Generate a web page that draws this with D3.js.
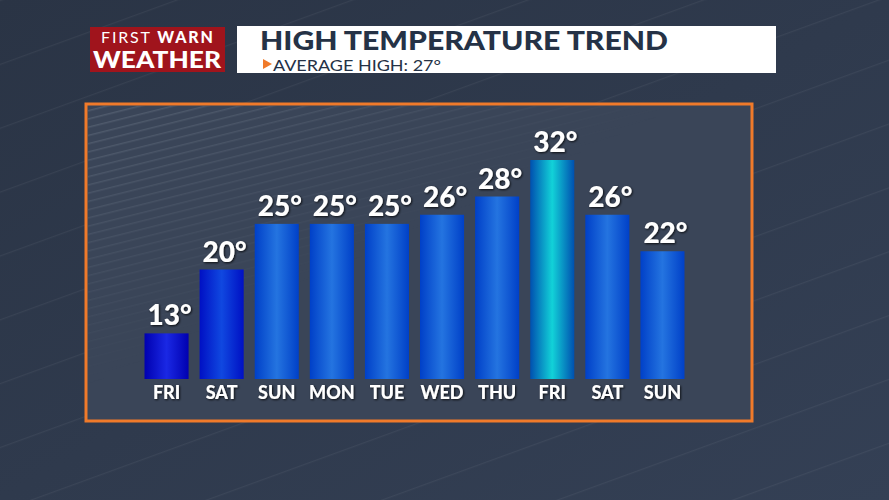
<!DOCTYPE html><html><head><meta charset="utf-8">
<script src="https://cdn.jsdelivr.net/npm/d3@7"></script>
<style>body{margin:0;background:#2c3749}svg{display:block}</style></head><body>
<svg id="c" width="889" height="500"></svg>
<script>
const days=["FRI","SAT","SUN","MON","TUE","WED","THU","FRI","SAT","SUN"];
const temps=[13,20,25,25,25,26,28,32,26,22];
const title="HIGH TEMPERATURE TREND";
const subtitle="AVERAGE HIGH: 27°";
const svg=d3.select("#c");
const defs=svg.append("defs");
const bg=defs.append("linearGradient").attr("id","bg").attr("x1",0).attr("y1",0).attr("x2",1).attr("y2",1);
bg.append("stop").attr("offset",0).attr("stop-color","#2a3445");
bg.append("stop").attr("offset",1).attr("stop-color","#344055");
svg.append("rect").attr("width",889).attr("height",500).attr("fill","url(#bg)");
const pat=defs.append("pattern").attr("id","st").attr("patternUnits","userSpaceOnUse").attr("width",60).attr("height",60).attr("patternTransform","rotate(-20)");
pat.append("rect").attr("width",60).attr("height",1.2).attr("fill","#ffffff").attr("opacity",0.05);
svg.append("rect").attr("width",889).attr("height",500).attr("fill","url(#st)");
svg.append("rect").attr("x",86).attr("y",104).attr("width",666).attr("height",317).attr("fill","#3a4558").attr("stroke","#f07a2a").attr("stroke-width",3);
const pat2=defs.append("pattern").attr("id","st2").attr("patternUnits","userSpaceOnUse").attr("width",8).attr("height",8).attr("patternTransform","rotate(-14)");
pat2.append("rect").attr("width",8).attr("height",1.5).attr("fill","#7d8898").attr("opacity",0.35);
const mg=defs.append("linearGradient").attr("id","mg").attr("x1",0).attr("y1",0).attr("x2",1).attr("y2",1);
mg.append("stop").attr("offset",0).attr("stop-color","#fff").attr("stop-opacity",1);
mg.append("stop").attr("offset",0.45).attr("stop-color","#fff").attr("stop-opacity",0);
defs.append("mask").attr("id","mk").append("rect").attr("x",88).attr("y",106).attr("width",662).attr("height",313).attr("fill","url(#mg)");
svg.append("rect").attr("x",88).attr("y",106).attr("width",662).attr("height",313).attr("fill","url(#st2)").attr("mask","url(#mk)");
svg.append("rect").attr("x",90).attr("y",27).attr("width",135).attr("height",45).attr("fill","#a0141c");
svg.append("text").attr("x",157).attr("y",43).attr("text-anchor","middle").attr("fill","#fff").attr("font-family","Lato").attr("font-size",16).attr("textLength",112)
 .html('FIRST <tspan font-weight="900">WARN</tspan>');
svg.append("text").attr("x",157).attr("y",68).attr("text-anchor","middle").attr("fill","#fff").attr("font-family","Lato").attr("font-weight",900).attr("font-size",23).attr("textLength",128).attr("lengthAdjust","spacingAndGlyphs").text("WEATHER");
svg.append("rect").attr("x",237).attr("y",26).attr("width",539).attr("height",47).attr("fill","#fff");
svg.append("text").attr("x",260).attr("y",50).attr("fill","#253246").attr("font-family","Lato").attr("font-weight",900).attr("font-size",27).attr("textLength",408).attr("lengthAdjust","spacingAndGlyphs").text(title);
svg.append("path").attr("d","M263,59 L272,64 L263,69Z").attr("fill","#f07a2a");
svg.append("text").attr("x",273).attr("y",70.5).attr("fill","#253246").attr("font-family","Lato").attr("font-size",16).attr("textLength",168).attr("lengthAdjust","spacingAndGlyphs").text(subtitle);
const x=d3.scaleBand().domain(d3.range(days.length)).range([139,690]).paddingInner(0.2).paddingOuter(0.1);
const y=d3.scaleLinear().domain([8,32]).range([379,160]);
const col=v=>{
 if(v>=32) return ["#0050b0","#12d2d8"];
 if(v<=13) return ["#0000b0","#1a28e4"];
 if(v<=20) return ["#0010c4","#1048e0"];
 return ["#0040c8","#2474e0"];
};
temps.forEach((v,i)=>{
 const [e,c]=col(v);
 const g=defs.append("linearGradient").attr("id","g"+i);
 g.append("stop").attr("offset",0).attr("stop-color",e);
 g.append("stop").attr("offset",0.5).attr("stop-color",c);
 g.append("stop").attr("offset",1).attr("stop-color",e);
});
svg.selectAll(".bar").data(temps).join("rect").attr("x",(d,i)=>x(i)).attr("width",x.bandwidth())
 .attr("y",d=>y(d)).attr("height",d=>y(8)-y(d)).attr("fill",(d,i)=>`url(#g${i})`);
const sh=defs.append("filter").attr("id","sh");
sh.append("feDropShadow").attr("dx",1).attr("dy",1).attr("stdDeviation",1).attr("flood-color","#000").attr("flood-opacity",0.8);
svg.selectAll(".lbl").data(temps).join("text").attr("x",(d,i)=>x(i)+x.bandwidth()/2+3).attr("y",d=>y(d)-8)
 .attr("text-anchor","middle").attr("fill","#fff").attr("font-family","Lato").attr("font-weight",900).attr("font-size",28).attr("filter","url(#sh)").text(d=>d+"°");
svg.selectAll(".day").data(days).join("text").attr("x",(d,i)=>x(i)+x.bandwidth()/2).attr("y",399)
 .attr("text-anchor","middle").attr("fill","#fff").attr("font-family","Lato").attr("font-weight",900).attr("font-size",18).attr("filter","url(#sh)").text(d=>d);
</script></body></html>
